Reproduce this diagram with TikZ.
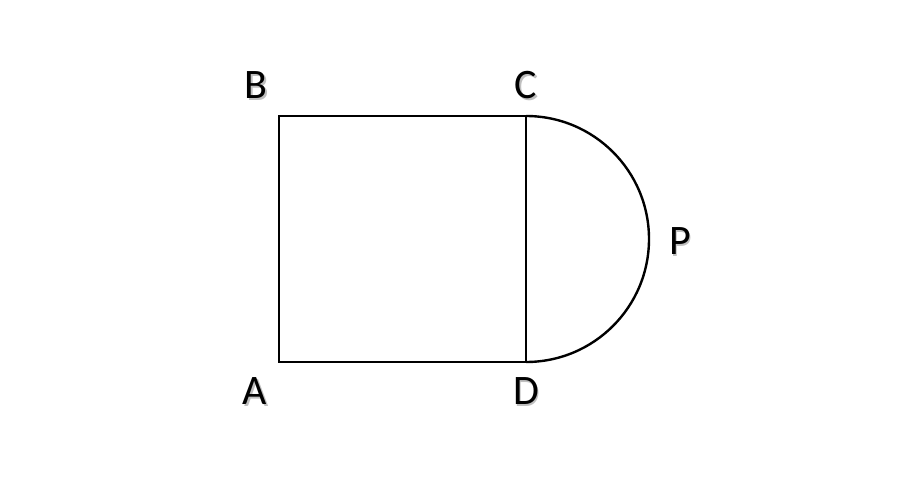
\documentclass[tikz,border=0pt]{standalone}
\usepackage{fontspec}
\setmainfont{Carlito}
\begin{document}
\begin{tikzpicture}[x=1pt,y=-1pt,
  edge/.style={line width=2.4pt,black,line join=miter},
  lab/.style={font=\fontsize{42}{46}\selectfont,inner sep=0pt,anchor=center},
  shadowlab/.style={lab,text=black!25}]
\useasboundingbox (0,0) rectangle (917,502);
\coordinate (A) at (279,362);
\coordinate (B) at (279,116);
\coordinate (C) at (526,116);
\coordinate (D) at (526,362);
\draw[edge] (C) -- (B) -- (A) -- (D) -- cycle;
\draw[edge] (C) arc[start angle=90,end angle=-90,x radius=123,y radius=-123];
\foreach \n/\t/\x/\y in {lA/A/255/391, lB/B/256/85, lC/C/526/85, lD/D/526/391, lP/P/680/241}{
  \node[shadowlab] at (\x+1.6,\y+1.6) {\t};
  \node[lab] (\n) at (\x,\y) {\t};
}
\end{tikzpicture}
\end{document}
